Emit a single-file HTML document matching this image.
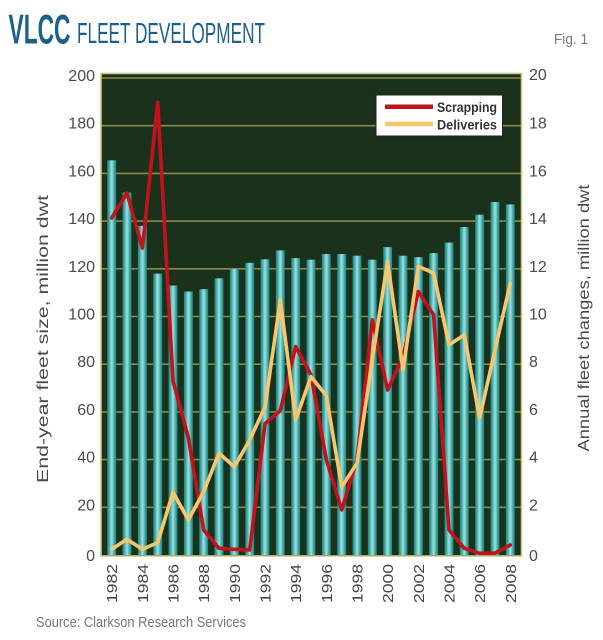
<!DOCTYPE html>
<html><head><meta charset="utf-8"><style>
html,body{margin:0;padding:0;background:#fff;}
svg{display:block;}
text{font-family:"Liberation Sans",Arial,sans-serif;}
</style></head><body>
<svg width="603" height="640" viewBox="0 0 603 640" xmlns="http://www.w3.org/2000/svg">
<defs>
<linearGradient id="bar" x1="0" x2="1" y1="0" y2="0">
<stop offset="0" stop-color="#17807c"/>
<stop offset="0.2" stop-color="#3aa9a6"/>
<stop offset="0.5" stop-color="#a6dede"/>
<stop offset="0.8" stop-color="#3aa9a6"/>
<stop offset="1" stop-color="#17807c"/>
</linearGradient>
</defs>
<!-- Title -->
<text x="8.5" y="43.5" font-size="42" font-weight="bold" fill="#1d5f8c" textLength="62" lengthAdjust="spacingAndGlyphs">VLCC</text>
<text x="77" y="43" font-size="29" fill="#1d5f8c" textLength="188" lengthAdjust="spacingAndGlyphs">FLEET DEVELOPMENT</text>
<text x="554" y="44" font-size="15" fill="#777" textLength="34" lengthAdjust="spacingAndGlyphs">Fig. 1</text>

<!-- Plot background -->
<rect x="101" y="73.5" width="420.5" height="482.5" fill="#1b311b"/>
<!-- gridlines -->
<g stroke="#8a8c48" stroke-width="1.6">
<line x1="101" x2="521.5" y1="78" y2="78"/>
<line x1="101" x2="521.5" y1="125.7" y2="125.7"/>
<line x1="101" x2="521.5" y1="173.4" y2="173.4"/>
<line x1="101" x2="521.5" y1="221.1" y2="221.1"/>
<line x1="101" x2="521.5" y1="268.8" y2="268.8"/>
<line x1="101" x2="521.5" y1="316.5" y2="316.5"/>
<line x1="101" x2="521.5" y1="364.2" y2="364.2"/>
<line x1="101" x2="521.5" y1="411.9" y2="411.9"/>
<line x1="101" x2="521.5" y1="459.6" y2="459.6"/>
<line x1="101" x2="521.5" y1="507.3" y2="507.3"/>
</g>
<!-- bars -->
<g fill="url(#bar)">
<rect x="107.2" y="160.3" width="9" height="394.7"/>
<rect x="122.5" y="192.5" width="9" height="362.5"/>
<rect x="137.9" y="225.9" width="9" height="329.1"/>
<rect x="153.2" y="273.6" width="9" height="281.4"/>
<rect x="168.5" y="285.5" width="9" height="269.5"/>
<rect x="183.9" y="291.5" width="9" height="263.5"/>
<rect x="199.2" y="289.1" width="9" height="265.9"/>
<rect x="214.5" y="278.3" width="9" height="276.7"/>
<rect x="229.8" y="268.8" width="9" height="286.2"/>
<rect x="245.2" y="262.8" width="9" height="292.2"/>
<rect x="260.5" y="259.3" width="9" height="295.7"/>
<rect x="275.8" y="250.4" width="9" height="304.6"/>
<rect x="291.2" y="258.1" width="9" height="296.9"/>
<rect x="306.5" y="259.7" width="9" height="295.3"/>
<rect x="321.8" y="254" width="9" height="301"/>
<rect x="337.2" y="254" width="9" height="301"/>
<rect x="352.5" y="255.7" width="9" height="299.3"/>
<rect x="367.8" y="259.7" width="9" height="295.3"/>
<rect x="383.1" y="247.1" width="9" height="307.9"/>
<rect x="398.5" y="255.7" width="9" height="299.3"/>
<rect x="413.8" y="257.1" width="9" height="297.9"/>
<rect x="429.1" y="253.1" width="9" height="301.9"/>
<rect x="444.5" y="242.6" width="9" height="312.4"/>
<rect x="459.8" y="227.1" width="9" height="327.9"/>
<rect x="475.1" y="214.7" width="9" height="340.3"/>
<rect x="490.5" y="202" width="9" height="353"/>
<rect x="505.8" y="204.4" width="9" height="350.6"/>
</g>
<!-- Scrapping -->
<polyline fill="none" stroke="#c4121c" stroke-width="3.6" stroke-linejoin="round" stroke-linecap="round"
points="111.7,218 127,193 142.4,248 157.7,102.3 173,380.9 188.4,438.1 203.7,530 219,548.3 234.3,549.3 249.7,550 265,423.8 280.3,410.7 295.7,346.6 311,375 326.3,459.6 341.7,509.9 357,459.6 372.3,319.8 387.6,390 403,357 418.3,291.5 433.6,314.8 449,530 464.3,548.3 479.6,553.3 495,553.1 510.3,545"/>
<!-- Deliveries -->
<polyline fill="none" stroke="#f8c66b" stroke-width="3.6" stroke-linejoin="round" stroke-linecap="round"
points="111.7,549.3 127,539.3 142.4,549.3 157.7,542.6 173,492.3 188.4,519.9 203.7,491.6 219,453.2 234.3,466.8 249.7,440 265,407.1 280.3,299.8 295.7,419.8 311,376.6 326.3,395.7 341.7,487 357,463.2 372.3,359.4 387.6,261.6 403,369.9 418.3,266.4 433.6,273.1 449,344.9 464.3,334.9 479.6,418.1 495,349.9 510.3,283.1"/>
<!-- plot border -->
<rect x="101" y="73.5" width="420.5" height="482.5" fill="none" stroke="#c9c982" stroke-width="1.6"/>

<!-- Legend -->
<rect x="376" y="95" width="126.5" height="41" fill="#fff" stroke="#222" stroke-width="1"/>
<line x1="385" x2="433" y1="106.7" y2="106.7" stroke="#c4121c" stroke-width="4.5"/>
<line x1="385" x2="433" y1="124" y2="124" stroke="#f8c66b" stroke-width="4.5"/>
<text x="437" y="112" font-size="13.5" font-weight="bold" fill="#333" textLength="60" lengthAdjust="spacingAndGlyphs">Scrapping</text>
<text x="437" y="129.5" font-size="13.5" font-weight="bold" fill="#333" textLength="60" lengthAdjust="spacingAndGlyphs">Deliveries</text>

<!-- Left ticks -->
<g font-size="16" fill="#4a4a4a" text-anchor="end">
<text x="95" y="81">200</text>
<text x="95" y="128.7">180</text>
<text x="95" y="176.4">160</text>
<text x="95" y="224.1">140</text>
<text x="95" y="271.8">120</text>
<text x="95" y="319.5">100</text>
<text x="95" y="367.2">80</text>
<text x="95" y="414.9">60</text>
<text x="95" y="462.6">40</text>
<text x="95" y="510.3">20</text>
<text x="95" y="561">0</text>
</g>
<!-- Right ticks -->
<g font-size="16" fill="#4a4a4a" text-anchor="start">
<text x="529" y="80">20</text>
<text x="529" y="128.7">18</text>
<text x="529" y="176.4">16</text>
<text x="529" y="224.1">14</text>
<text x="529" y="271.8">12</text>
<text x="529" y="319.5">10</text>
<text x="529" y="367.2">8</text>
<text x="529" y="414.9">6</text>
<text x="529" y="462.6">4</text>
<text x="529" y="510.3">2</text>
<text x="529" y="561">0</text>
</g>
<!-- Axis titles -->
<text transform="translate(48,339) rotate(-90)" font-size="16" fill="#4a4a4a" text-anchor="middle" textLength="288" lengthAdjust="spacingAndGlyphs">End-year fleet size, million dwt</text>
<text transform="translate(589,318) rotate(-90)" font-size="16" fill="#4a4a4a" text-anchor="middle" textLength="267" lengthAdjust="spacingAndGlyphs">Annual fleet changes, million dwt</text>

<!-- Year labels -->
<g font-size="15" fill="#444" text-anchor="end">
<text transform="translate(117.2,564) rotate(-90)" textLength="39" lengthAdjust="spacingAndGlyphs">1982</text>
<text transform="translate(147.9,564) rotate(-90)" textLength="39" lengthAdjust="spacingAndGlyphs">1984</text>
<text transform="translate(178.5,564) rotate(-90)" textLength="39" lengthAdjust="spacingAndGlyphs">1986</text>
<text transform="translate(209.2,564) rotate(-90)" textLength="39" lengthAdjust="spacingAndGlyphs">1988</text>
<text transform="translate(239.8,564) rotate(-90)" textLength="39" lengthAdjust="spacingAndGlyphs">1990</text>
<text transform="translate(270.5,564) rotate(-90)" textLength="39" lengthAdjust="spacingAndGlyphs">1992</text>
<text transform="translate(301.2,564) rotate(-90)" textLength="39" lengthAdjust="spacingAndGlyphs">1994</text>
<text transform="translate(331.8,564) rotate(-90)" textLength="39" lengthAdjust="spacingAndGlyphs">1996</text>
<text transform="translate(362.5,564) rotate(-90)" textLength="39" lengthAdjust="spacingAndGlyphs">1998</text>
<text transform="translate(393.1,564) rotate(-90)" textLength="39" lengthAdjust="spacingAndGlyphs">2000</text>
<text transform="translate(423.8,564) rotate(-90)" textLength="39" lengthAdjust="spacingAndGlyphs">2002</text>
<text transform="translate(454.5,564) rotate(-90)" textLength="39" lengthAdjust="spacingAndGlyphs">2004</text>
<text transform="translate(485.1,564) rotate(-90)" textLength="39" lengthAdjust="spacingAndGlyphs">2006</text>
<text transform="translate(515.8,564) rotate(-90)" textLength="39" lengthAdjust="spacingAndGlyphs">2008</text>
</g>

<!-- Source -->
<text x="36" y="627" font-size="15" fill="#777" textLength="210" lengthAdjust="spacingAndGlyphs">Source: Clarkson Research Services</text>
</svg>
</body></html>
